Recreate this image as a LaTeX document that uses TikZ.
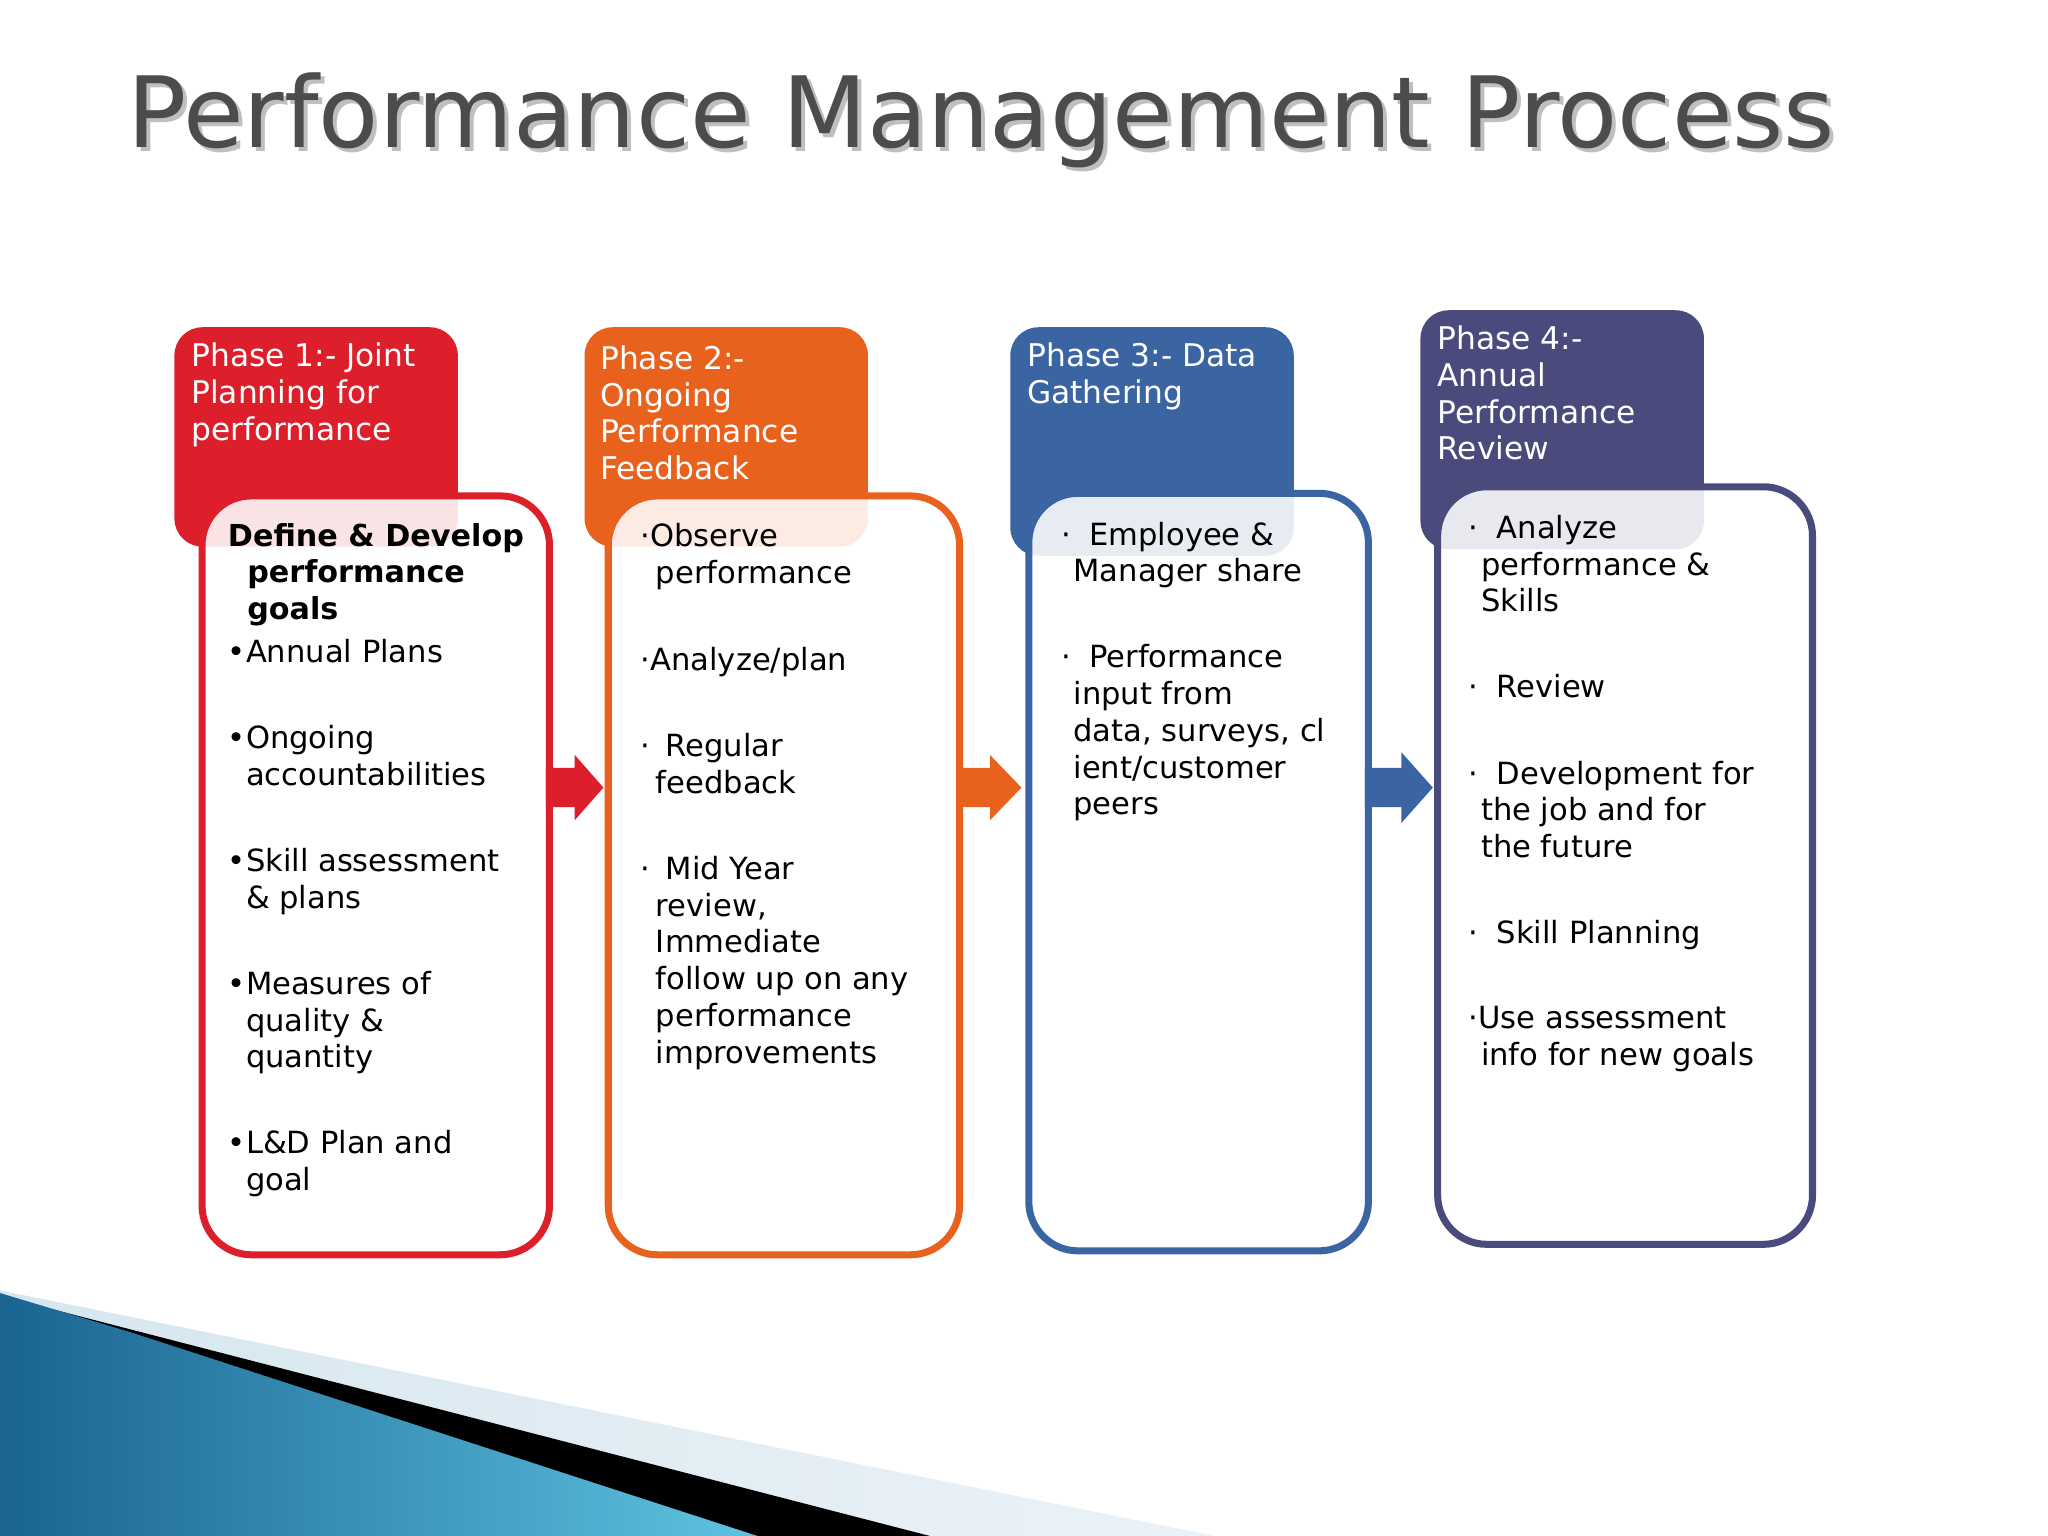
\documentclass[tikz,border=0pt]{standalone}
\usepackage{fontspec}
\setmainfont{DejaVu Sans}
\begin{document}
\begin{tikzpicture}[x=0.013061cm,y=-0.013061cm,
  hdr/.style={draw=none,rounded corners=8pt,anchor=north west,inner sep=0pt},
  card/.style={draw,line width=2pt,fill=white,fill opacity=0.88,rounded corners=14pt,anchor=north west,inner sep=0pt},
  txt/.style={anchor=north west,inner sep=0pt,align=left,font=\fontsize{8.7}{10.45}\selectfont,text=black},
  htxt/.style={anchor=north west,inner sep=0pt,align=left,font=\fontsize{8.9}{10.45}\selectfont,text=white},
  blk/.style={draw=none}]
\definecolor{cA}{HTML}{DC1F2A}
\definecolor{cB}{HTML}{E8621E}
\definecolor{cC}{HTML}{3A64A2}
\definecolor{cD}{HTML}{4A4A7C}
\definecolor{pale}{HTML}{D6E6EF}
\useasboundingbox (0,0) rectangle (1568,1176);
\fill[white] (0,0) rectangle (1568,1176);
% bottom decoration
\shade[left color=pale,right color=pale!50] (0,988) -- (930,1176) -- (0,1176) -- cycle;
\fill[black] (0,992) -- (712,1176) -- (0,1176) -- cycle;
\shade[left color={rgb,255:red,25;green,100;blue,145},right color={rgb,255:red,95;green,195;blue,225}] (0,990) -- (100,1020) -- (580,1176) -- (0,1176) -- cycle;
% title
\node[anchor=north west,inner sep=0pt,text=black!25,font=\fontsize{28}{32}\selectfont] at (100,58) {Performance Management Process};
\node (title)[anchor=north west,inner sep=0pt,text=black!70,font=\fontsize{28}{32}\selectfont] at (97,55) {Performance Management Process};
% headers
\node (h1)[hdr,fill=cA,minimum width=217*0.013061cm,minimum height=168*0.013061cm] at (133,250) {};
\node (h2)[hdr,fill=cB,minimum width=217*0.013061cm,minimum height=168*0.013061cm] at (447,250) {};
\node (h3)[hdr,fill=cC,minimum width=217*0.013061cm,minimum height=175*0.013061cm] at (773,250) {};
\node (h4)[hdr,fill=cD,minimum width=217*0.013061cm,minimum height=183*0.013061cm] at (1087,237) {};
\node (t1)[htxt] at (146,262) {Phase 1:- Joint\\Planning for\\performance};
\node (t2)[htxt] at (459,264) {Phase 2:-\\Ongoing\\Performance\\Feedback};
\node (t3)[htxt] at (786,262) {Phase 3:- Data\\Gathering};
\node (t4)[htxt] at (1100,249) {Phase 4:-\\Annual\\Performance\\Review};
% cards
\node (b1)[card,draw=cA,minimum width=266*0.013061cm,minimum height=581*0.013061cm] at (152,377) {};
\node (b2)[card,draw=cB,minimum width=269*0.013061cm,minimum height=581*0.013061cm] at (463,377) {};
\node (b3)[card,draw=cC,minimum width=260*0.013061cm,minimum height=580*0.013061cm] at (785,375) {};
\node (b4)[card,draw=cD,minimum width=287*0.013061cm,minimum height=580*0.013061cm] at (1098,370) {};
% arrows
\fill[cA] (418,588) -- (440,588) -- (440,578) -- (462,603) -- (440,628) -- (440,618) -- (418,618) -- cycle;
\fill[cB] (732,588) -- (758,588) -- (758,578) -- (782,603) -- (758,628) -- (758,618) -- (732,618) -- cycle;
\fill[cC] (1045,588) -- (1073,588) -- (1073,576) -- (1097,603) -- (1073,630) -- (1073,618) -- (1045,618) -- cycle;
% card 1
\node (p11)[txt,font=\fontsize{8.6}{10.45}\selectfont\bfseries] at (174,400) {Define \& Develop\\\phantom{•}performance\\\phantom{•}goals};
\node (p12)[txt] at (174,489) {•Annual Plans};
\node (p13)[txt] at (174,555) {•Ongoing\\\phantom{•}accountabilities};
\node (p14)[txt] at (174,649) {•Skill assessment\\\phantom{•}\& plans};
\node (p15)[txt] at (174,743) {•Measures of\\\phantom{•}quality \&\\\phantom{•}quantity};
\node (p16)[txt] at (174,865) {•L\&D Plan and\\\phantom{•}goal};
% card 2
\node (p21)[txt] at (490,400) {·Observe\\\hspace{0.5em}performance};
\node (p22)[txt] at (490,495) {·Analyze/plan};
\node (p23)[txt] at (490,561) {·\hspace{0.5em}Regular\\\hspace{0.5em}feedback};
\node (p24)[txt] at (490,655) {·\hspace{0.5em}Mid Year\\\hspace{0.5em}review,\\\hspace{0.5em}Immediate\\\hspace{0.5em}follow up on any\\\hspace{0.5em}performance\\\hspace{0.5em}improvements};
% card 3
\node (p31)[txt] at (812,399) {·\hspace{0.6em}Employee \&\\\hspace{0.4em}Manager share};
\node (p32)[txt] at (812,493) {·\hspace{0.6em}Performance\\\hspace{0.4em}input from\\\hspace{0.4em}data, surveys, cl\\\hspace{0.4em}ient/customer\\\hspace{0.4em}peers};
% card 4
\node (p41)[txt] at (1124,394) {·\hspace{0.6em}Analyze\\\hspace{0.4em}performance \&\\\hspace{0.4em}Skills};
\node (p42)[txt] at (1124,516) {·\hspace{0.6em}Review};
\node (p43)[txt] at (1124,582) {·\hspace{0.6em}Development for\\\hspace{0.4em}the job and for\\\hspace{0.4em}the future};
\node (p44)[txt] at (1124,704) {·\hspace{0.6em}Skill Planning};
\node (p45)[txt] at (1124,770) {·Use assessment\\\hspace{0.4em}info for new goals};
\end{tikzpicture}
\end{document}
